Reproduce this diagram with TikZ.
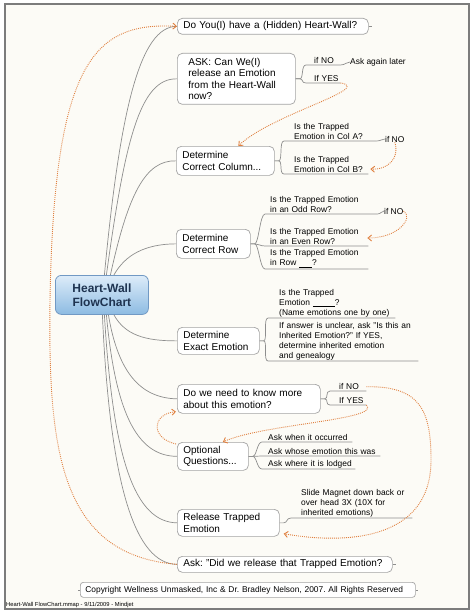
\documentclass[tikz,border=0pt]{standalone}
\usepackage{fontspec}
\setmainfont{Liberation Sans}
\usetikzlibrary{arrows.meta,calc}
\frenchspacing
\definecolor{paper}{HTML}{FCFBF6}
\definecolor{frameline}{HTML}{7C7C7C}
\definecolor{twiggray}{HTML}{8E8E8E}
\definecolor{boxline}{HTML}{A3A3A3}
\definecolor{jump}{HTML}{E0803F}
\definecolor{rootlight}{HTML}{DDECF9}
\definecolor{rootdark}{HTML}{8DBBE2}
\definecolor{rootline}{HTML}{7199C4}
\definecolor{roottext}{HTML}{1E3350}
\tikzset{
  topic/.style={draw=boxline, line width=0.7pt, fill=white, rounded corners=5pt, anchor=north west,
    align=left, inner xsep=6pt, inner ysep=1.5pt, font=\fontsize{10}{11.5}\selectfont},
  lab/.style={anchor=south west, align=left, inner xsep=0pt, inner ysep=1pt, font=\fontsize{8.4}{10}\selectfont},
  tag/.style={anchor=west, inner sep=0pt, font=\fontsize{8.4}{10}\selectfont},
  conn/.style={draw=twiggray, line width=0.7pt},
  jumpline/.style={draw=jump, line width=0.9pt, dash pattern=on 0.9pt off 1.1pt,
    -{Straight Barb[length=3.5pt,width=6pt]}},
}
% parent -> underlined sub-topic
\newcommand{\twig}[3][8]{\draw[conn] (#2.east) -- ++(4,0) .. controls +(4,0) and +(-5,0) .. ([xshift=-#1pt]#3.south west) -- (#3.south east);}

\begin{document}
\begin{tikzpicture}[x=1pt,y=-1pt]
\useasboundingbox (0,0) rectangle (474,615);
\fill[white] (0,0) rectangle (474,615);
\draw[frameline, line width=1.4pt, fill=paper] (5,4) rectangle (469,609);

% central topic
\node[draw=rootline, line width=0.8pt, rounded corners=6pt, top color=rootlight, bottom color=rootdark,
  minimum width=93pt, minimum height=39pt, align=center, text=roottext, anchor=north west,
  font=\fontsize{12}{14}\selectfont\bfseries] (root) at (55,275) {Heart-Wall\\FlowChart};

% main topics
\node[topic, text width=179pt, minimum height=16pt] (do) at (177,18) {Do You(I) have a (Hidden) Heart-Wall?};
\node[topic, inner xsep=11pt, text width=96pt, minimum height=51pt] (ask) at (177,53) {ASK: Can We(I)\\release an Emotion\\from the Heart-Wall\\now?};
\node[topic, text width=86pt, minimum height=29pt] (col) at (176,146) {Determine\\Correct Column...};
\node[topic, text width=62pt, minimum height=29pt] (row) at (176,229) {Determine\\Correct Row};
\node[topic, text width=70pt, minimum height=27pt] (exact) at (177,327) {Determine\\Exact Emotion};
\node[topic, text width=131pt, minimum height=29pt] (need) at (177,384) {Do we need to know more\\about this emotion?};
\node[topic, text width=59pt, minimum height=28pt] (opt) at (177,442) {Optional\\Questions...};
\node[topic, text width=90pt, minimum height=27pt] (rel) at (177,509) {Release Trapped\\Emotion};
\node[topic, text width=203pt, minimum height=16pt] (did) at (177,556) {Ask: "Did we release that Trapped Emotion?};
\node[topic, inner xsep=5pt, text width=325pt, minimum height=15pt, rounded corners=3pt,
  font=\fontsize{8.4}{10}\selectfont] (copy) at (80,582) {Copyright Wellness Unmasked, Inc \& Dr. Bradley Nelson, 2007. All Rights Reserved};
\node[anchor=south west, inner sep=0pt, font=\fontsize{5.8}{6}\selectfont] (foot) at (6,608) {Heart-Wall FlowChart.mmap - 9/11/2009 - Mindjet};

% root connectors
\draw[conn] ([xshift=2.5pt]root.north) .. controls (120,110) and (140,26) .. (do.west);
\draw[conn] ([xshift=4.5pt]root.north) .. controls (125,140) and (140,78) .. (ask.west);
\draw[conn] ([xshift=8.5pt]root.north) .. controls (128,195) and (145,160) .. (col.west);
\draw[conn] ([xshift=12pt]root.north) .. controls (125,255) and (145,244) .. (row.west);
\draw[conn] ([xshift=12pt]root.south) .. controls (125,335) and (145,341) .. (exact.west);
\draw[conn] ([xshift=6.5pt]root.south) .. controls (118,372) and (140,398) .. (need.west);
\draw[conn] ([xshift=4.5pt]root.south) .. controls (116,420) and (140,456) .. (opt.west);
\draw[conn] ([xshift=2.5pt]root.south) .. controls (113,460) and (135,522) .. (rel.west);
\draw[conn] ([xshift=0.5pt]root.south) .. controls (110,485) and (135,564) .. (did.west);
\draw[conn] (do.east) -- ++(3,0);
\draw[conn] (did.east) -- ++(3,0);
\draw[conn] (copy.west) -- ++(-2,0);
\draw[conn] (copy.east) -- ++(2,0);

% ask
\node[lab, text width=26pt] (askno) at (314,65) {if NO};
\node[tag] (again) at (350,62) {Ask again later};
\node[lab, text width=26pt] (askyes) at (314,83) {If YES};
\twig{ask}{askno}
\twig{ask}{askyes}
\draw[conn] (askno.south east) .. controls +(5,0) and +(-4,0) .. (again.west);

% column
\node[lab, text width=82pt] (cola) at (294,141) {Is the Trapped\\Emotion in Col A?};
\node[tag] (colno) at (385,139) {if NO};
\node[lab, text width=74pt] (colb) at (294,174) {Is the Trapped\\Emotion in Col B?};
\twig[10]{col}{cola}
\twig[10]{col}{colb}
\draw[conn] (cola.south east) .. controls +(5,0) and +(-4,0) .. (colno.west);

% row
\node[lab, text width=107pt] (rowodd) at (270,214) {Is the Trapped Emotion\\in an Odd Row?};
\node[tag] (rowno) at (384,211) {if NO};
\node[lab, text width=98pt] (roweven) at (270,246) {Is the Trapped Emotion\\in an Even Row?};
\node[lab, text width=98pt] (rowany) at (270,269) {Is the Trapped Emotion\\in Row \underline{\hspace{13pt}}?};
\twig[5]{row}{rowodd}
\twig[5]{row}{roweven}
\twig[5]{row}{rowany}
\draw[conn] (rowodd.south east) .. controls +(4,0) and +(-3,0) .. (rowno.west);

% exact emotion
\node[lab, text width=116pt] (exname) at (279,318) {Is the Trapped\\Emotion \underline{\hspace{22pt}}?\\(Name emotions one by one)};
\node[lab, text width=139pt] (exunclear) at (279,361) {If answer is unclear, ask "Is this an\\Inherited Emotion?" If YES,\\determine inherited emotion\\and genealogy};
\twig[11]{exact}{exname}
\twig[11]{exact}{exunclear}

% need to know more
\node[lab, text width=27pt] (needno) at (339,391) {if NO};
\node[lab, text width=27pt] (needyes) at (339,405) {If YES};
\twig[9]{need}{needno}
\twig[9]{need}{needyes}

% optional questions
\node[lab, text width=84pt] (optwhen) at (268,442) {Ask when it occurred};
\node[lab, text width=112pt] (optwhose) at (268,456) {Ask whose emotion this was};
\node[lab, text width=87pt] (optwhere) at (268,469) {Ask where it is lodged};
\twig[6]{opt}{optwhen}
\twig[6]{opt}{optwhose}
\twig[6]{opt}{optwhere}

% release
\node[lab, text width=111pt] (relslide) at (301,518) {Slide Magnet down back or\\over head 3X (10X for\\inherited emotions)};
\twig[10]{rel}{relslide}

% jumps
\draw[jumpline] (did.west) .. controls (60,555) and (48,450) .. (50,300) .. controls (54,60) and (95,22) .. (do.west);
\draw[jumpline] (askyes.south east) .. controls (375,88) and (270,115) .. ([xshift=13pt]col.north);
\draw[jumpline] (colno.south) .. controls (400,158) and (388,170) .. ($(colb.south east)+(2,-5)$);
\draw[jumpline] (rowno.east) .. controls (414,218) and (398,238) .. ($(roweven.south east)+(-1,-8)$);
\draw[jumpline] (needno.east) .. controls (420,386) and (431,410) .. (431,460) .. controls (431,548) and (330,542) .. ($(rel.south east)+(4,-3)$);
\draw[jumpline] (needyes.south east) .. controls (382,420) and (262,424) .. ([xshift=10pt]opt.north);
\draw[jumpline] ($(opt.north west)+(-1,2)$) .. controls (150,438) and (152,414) .. ($(need.south west)+(-1,-2)$);
\end{tikzpicture}
\end{document}
